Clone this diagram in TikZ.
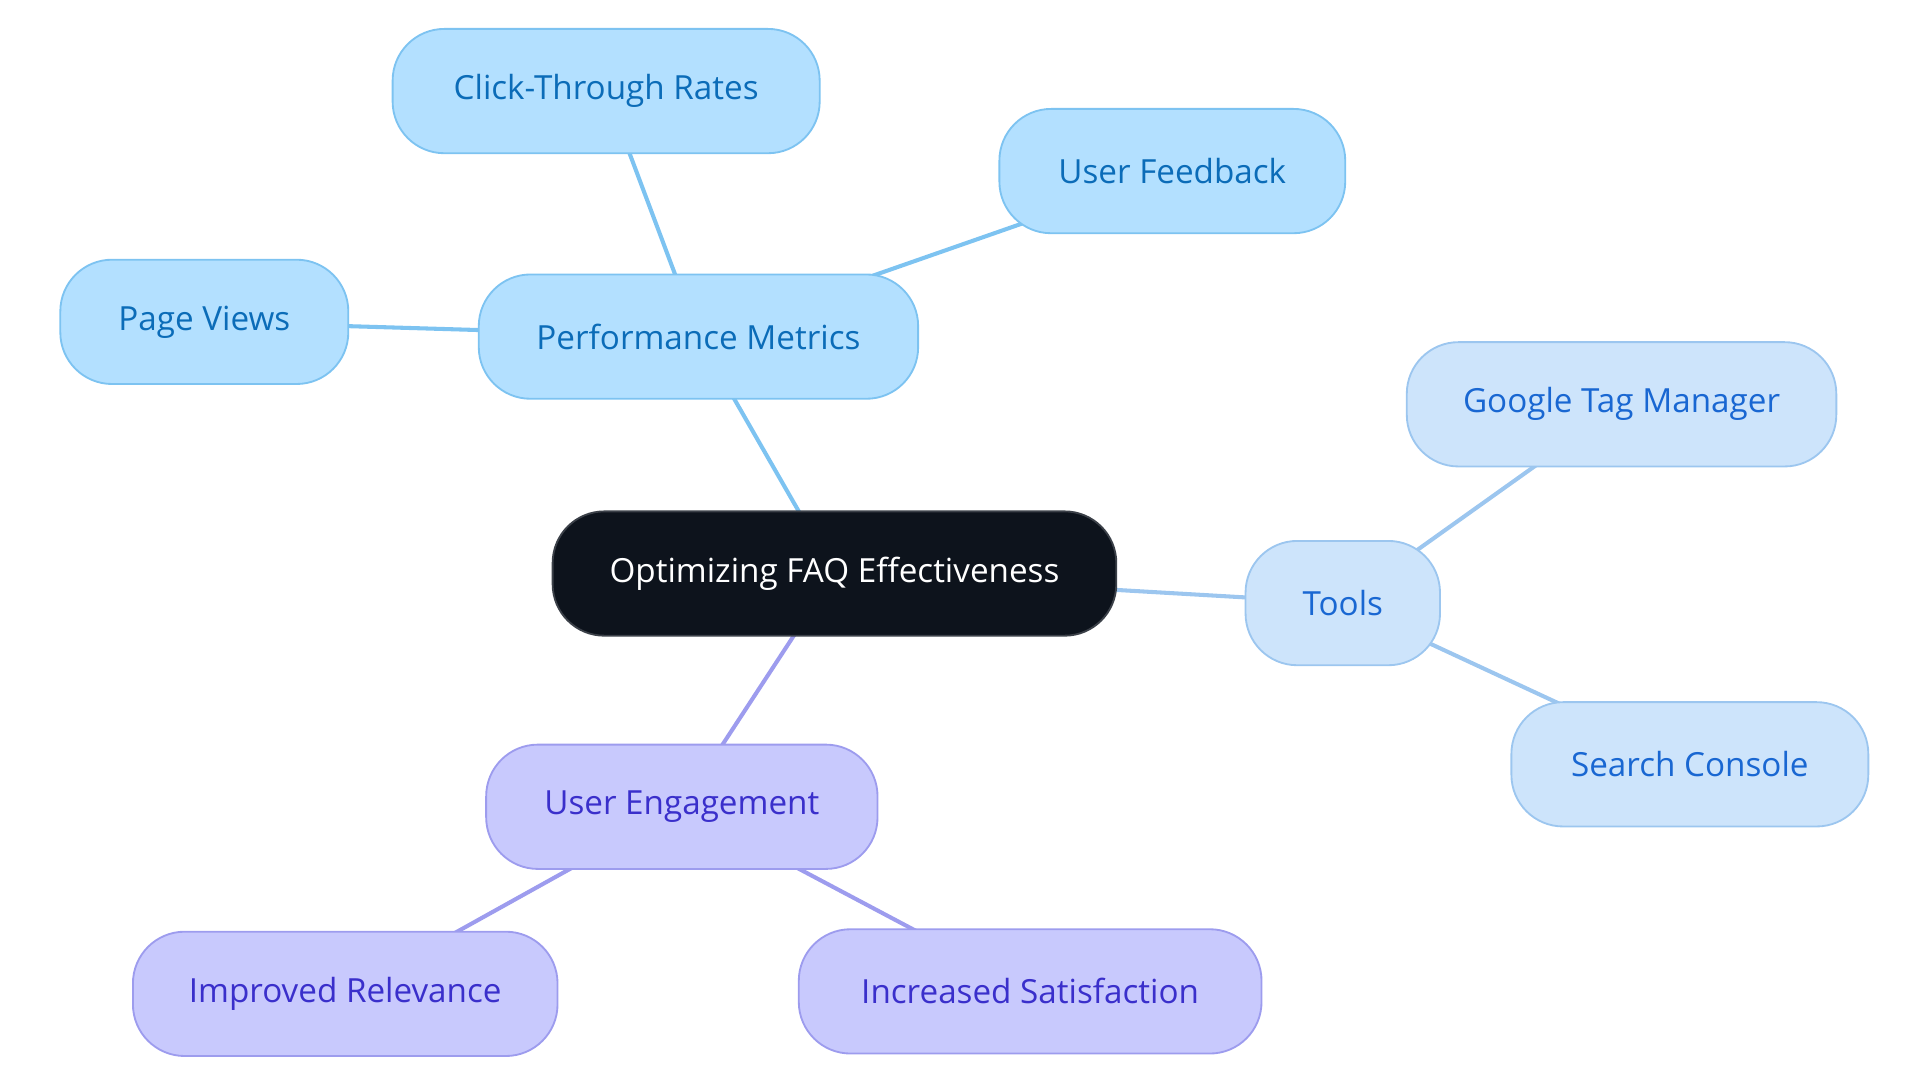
\documentclass[tikz,border=0pt]{standalone}
\usepackage{fontspec}
\setmainfont{Open Sans}
\usetikzlibrary{backgrounds}
\definecolor{rootfill}{HTML}{0D131C}
\definecolor{rootline}{HTML}{3B4048}
\definecolor{skyfill}{HTML}{B3E0FF}
\definecolor{skyline}{HTML}{7DC3F1}
\definecolor{skytext}{HTML}{0B6CB8}
\definecolor{toolfill}{HTML}{CDE4FB}
\definecolor{toolline}{HTML}{9CC6EF}
\definecolor{tooltext}{HTML}{1967D2}
\definecolor{violetfill}{HTML}{C8C9FD}
\definecolor{violetline}{HTML}{9D9CEE}
\definecolor{violettext}{HTML}{3A2FCB}
\begin{document}
\begin{tikzpicture}[x=1pt,y=-1pt,
	box/.style={rounded corners=42pt, line width=1.5pt, minimum height=101pt, inner sep=0pt, font=\fontsize{27}{32}\selectfont},
	rootbox/.style={box, fill=rootfill, draw=rootline, text=white},
	metricbox/.style={box, fill=skyfill, draw=skyline, text=skytext},
	toolbox/.style={box, fill=toolfill, draw=toolline, text=tooltext},
	userbox/.style={box, fill=violetfill, draw=violetline, text=violettext},
	link/.style={line width=3.3pt}]
	\useasboundingbox (0,0) rectangle (1560,880);
	% centre
	\node[rootbox, minimum width=458pt] at (678,466) (faq) {Optimizing FAQ Effectiveness};
	% performance metrics
	\node[metricbox, minimum width=357pt] at (567.5,273.5) (perf) {Performance Metrics};
	\node[metricbox, minimum width=347pt] at (492.5,74) (ctr) {Click-Through Rates};
	\node[metricbox, minimum width=281pt] at (952.5,139) (feedback) {User Feedback};
	\node[metricbox, minimum width=234pt] at (166,261.5) (views) {Page Views};
	% tools
	\node[toolbox, minimum width=158pt] at (1091,490) (tools) {Tools};
	\node[toolbox, minimum width=349pt] at (1317.5,328.5) (gtm) {Google Tag Manager};
	\node[toolbox, minimum width=290pt] at (1373,621) (console) {Search Console};
	% user engagement
	\node[userbox, minimum width=318pt] at (554,655.5) (engage) {User Engagement};
	\node[userbox, minimum width=345pt] at (280.5,807.5) (relevance) {Improved Relevance};
	\node[userbox, minimum width=376pt] at (837,805.5) (satisf) {Increased Satisfaction};
	\begin{scope}[on background layer]
	\path[link, draw=skyline] (faq.center) edge (perf.center)
	(perf.center) edge (ctr.center)
	(perf.center) edge (feedback.center)
	(perf.center) edge (views.center);
	\path[link, draw=toolline] (faq.center) edge (tools.center)
	(tools.center) edge (gtm.center)
	(tools.center) edge (console.center);
	\path[link, draw=violetline] (faq.center) edge (engage.center)
	(engage.center) edge (relevance.center)
	(engage.center) edge (satisf.center);
	\end{scope}
\end{tikzpicture}
\end{document}
